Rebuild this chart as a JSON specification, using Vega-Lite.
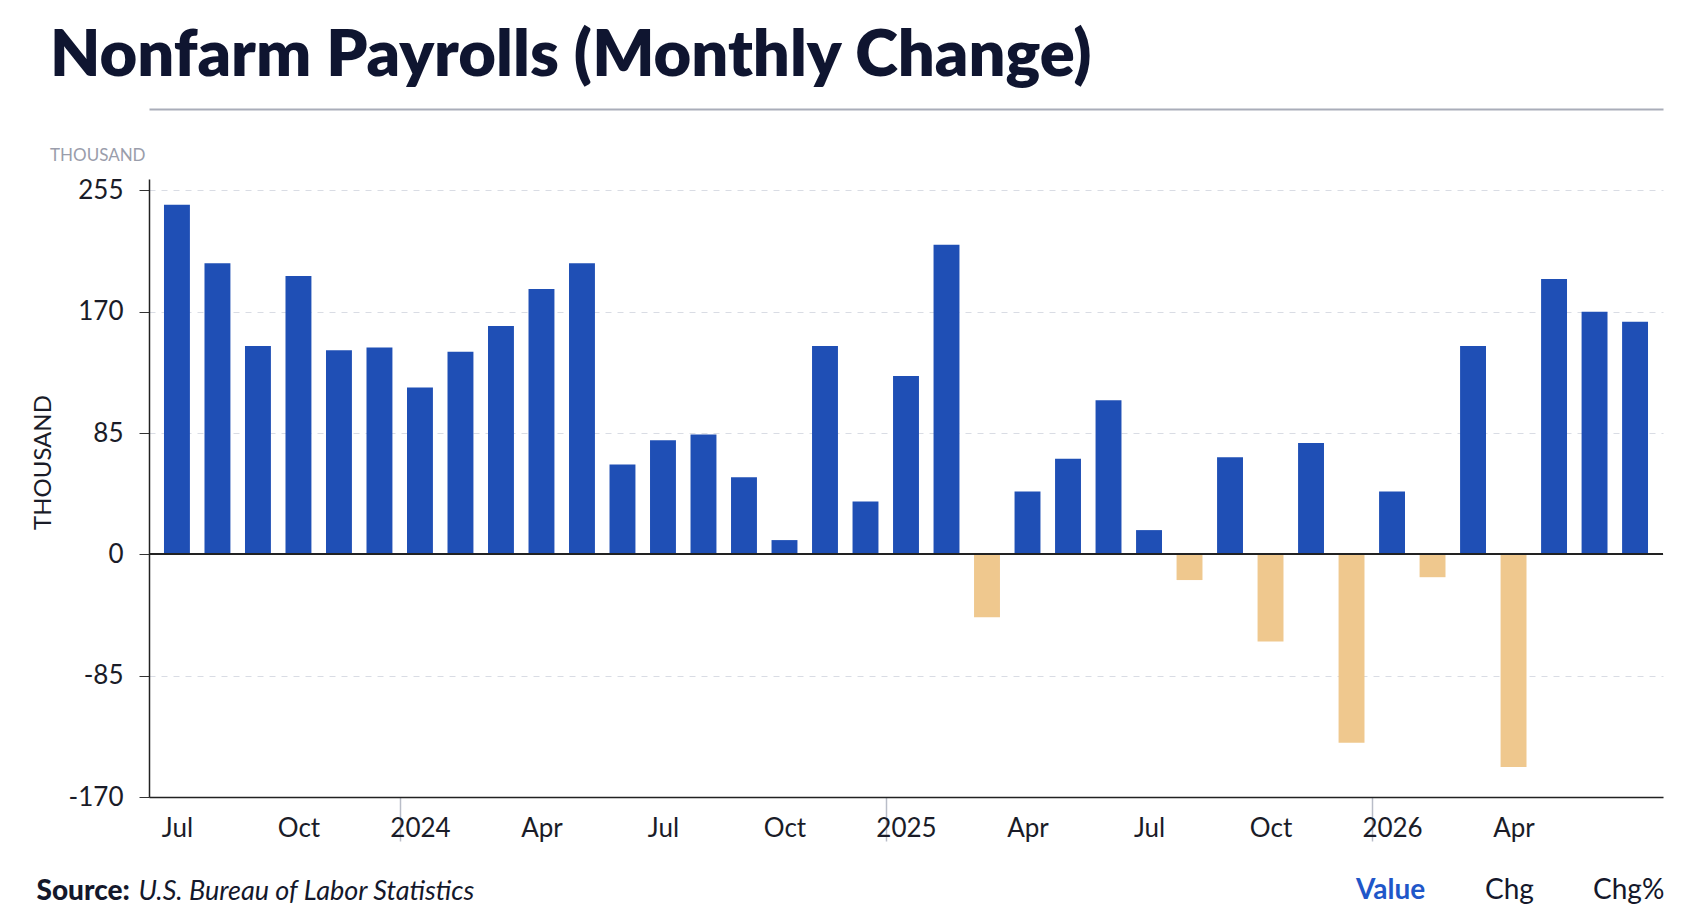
{
  "$schema": "https://vega.github.io/schema/vega-lite/v6.json",
  "width": 1514,
  "height": 618,
  "autosize": "none",
  "padding": {"left": 149, "top": 179, "right": 41, "bottom": 126},
  "background": "#ffffff",
  "title": {
    "text": "Nonfarm Payrolls (Monthly Change)",
    "subtitle": "THOUSAND",
    "anchor": "start",
    "frame": "group",
    "dx": -99,
    "dy": 60,
    "font": "Lato",
    "fontSize": 65,
    "fontWeight": 800,
    "color": "#0f1530",
    "subtitleFont": "Lato",
    "subtitleFontSize": 17,
    "subtitleColor": "#9a9dab",
    "subtitlePadding": 58
  },
  "datasets": {
    "payrolls": [
      {"month": "2023-07", "value": 245},
      {"month": "2023-08", "value": 204},
      {"month": "2023-09", "value": 146},
      {"month": "2023-10", "value": 195},
      {"month": "2023-11", "value": 143},
      {"month": "2023-12", "value": 145},
      {"month": "2024-01", "value": 117},
      {"month": "2024-02", "value": 142},
      {"month": "2024-03", "value": 160},
      {"month": "2024-04", "value": 186},
      {"month": "2024-05", "value": 204},
      {"month": "2024-06", "value": 63},
      {"month": "2024-07", "value": 80},
      {"month": "2024-08", "value": 84},
      {"month": "2024-09", "value": 54},
      {"month": "2024-10", "value": 10},
      {"month": "2024-11", "value": 146},
      {"month": "2024-12", "value": 37},
      {"month": "2025-01", "value": 125},
      {"month": "2025-02", "value": 217},
      {"month": "2025-03", "value": -44},
      {"month": "2025-04", "value": 44},
      {"month": "2025-05", "value": 67},
      {"month": "2025-06", "value": 108},
      {"month": "2025-07", "value": 17},
      {"month": "2025-08", "value": -18},
      {"month": "2025-09", "value": 68},
      {"month": "2025-10", "value": -61},
      {"month": "2025-11", "value": 78},
      {"month": "2025-12", "value": -132},
      {"month": "2026-01", "value": 44},
      {"month": "2026-02", "value": -16},
      {"month": "2026-03", "value": 146},
      {"month": "2026-04", "value": -149},
      {"month": "2026-05", "value": 193},
      {"month": "2026-06", "value": 170},
      {"month": "2026-07", "value": 163}
    ],
    "views": [
      {"view": "Value"},
      {"view": "Chg"},
      {"view": "Chg%"}
    ]
  },
  "data": {"name": "payrolls"},
  "layer": [
    {
      "mark": {"type": "bar"},
      "encoding": {
        "x": {
          "field": "month",
          "type": "ordinal",
          "sort": null,
          "scale": {"type": "band", "paddingInner": 0.36, "paddingOuter": 0.37},
          "axis": {
            "values": ["2023-07", "2023-10", "2024-01", "2024-04", "2024-07", "2024-10", "2025-01", "2025-04", "2025-07", "2025-10", "2026-01", "2026-04"],
            "labelExpr": "substring(datum.value, 5, 7) == '01' ? substring(datum.value, 0, 4) : substring(datum.value, 5, 7) == '04' ? 'Apr' : substring(datum.value, 5, 7) == '07' ? 'Jul' : 'Oct'",
            "labelAngle": 0,
            "labelFont": "Lato",
            "labelFontSize": 26,
            "labelColor": "#1a1c28",
            "labelPadding": -26,
            "labelOffset": 20.25,
            "tickOffset": -20.25,
            "tickSize": 44,
            "tickWidth": 1.5,
            "tickColor": "#b9bdc8",
            "tickOpacity": {"condition": {"test": "substring(datum.value, 5, 7) == '01'", "value": 1}, "value": 0},
            "domainColor": "#222222",
            "domainWidth": 1.5,
            "grid": false,
            "title": "Source:",
            "titleFont": "Lato",
            "titleFontSize": 28,
            "titleFontWeight": 900,
            "titleColor": "#14182b",
            "titleX": -113,
            "titleY": 94,
            "titleAlign": "left",
            "titleBaseline": "middle"
          }
        },
        "y": {
          "field": "value",
          "type": "quantitative",
          "scale": {"domain": [-170, 263], "nice": false, "zero": false},
          "axis": {
            "values": [-170, -85, 0, 85, 170, 255],
            "labelExpr": "'' + datum.value",
            "labelFont": "Lato",
            "labelFontSize": 26,
            "labelColor": "#1a1c28",
            "labelPadding": 16,
            "tickSize": 10,
            "tickColor": "#333333",
            "domainColor": "#222222",
            "domainWidth": 1.5,
            "gridColor": "#d9dce4",
            "gridDash": [6, 6],
            "gridWidth": 1,
            "title": "THOUSAND",
            "titleFont": "Lato",
            "titleFontSize": 24,
            "titleFontWeight": 400,
            "titleColor": "#1a1c28",
            "titleX": -106,
            "titleY": 283,
            "titleAlign": "center",
            "titleBaseline": "middle"
          }
        },
        "color": {
          "condition": {"test": "datum.value < 0", "value": "#efc88e"},
          "value": "#1f4fb5"
        }
      }
    },
    {
      "mark": {"type": "rule", "color": "#222222", "strokeWidth": 1.5},
      "encoding": {"y": {"datum": 0, "type": "quantitative"}}
    },
    {
      "mark": {"type": "point", "opacity": 0},
      "encoding": {
        "x": {
          "field": "month",
          "type": "ordinal",
          "sort": null,
          "axis": {
            "orient": "top",
            "offset": 70,
            "labels": false,
            "ticks": false,
            "grid": false,
            "domainColor": "#a9adb9",
            "domainWidth": 2,
            "title": "U.S. Bureau of Labor Statistics",
            "titleFont": "Lato",
            "titleFontSize": 27,
            "titleFontStyle": "italic",
            "titleFontWeight": 400,
            "titleColor": "#14182b",
            "titleX": -11,
            "titleY": 782,
            "titleAlign": "left",
            "titleBaseline": "middle"
          }
        }
      }
    },
    {
      "data": {"name": "views"},
      "mark": {"type": "point", "opacity": 0},
      "encoding": {
        "color": {
          "field": "view",
          "type": "nominal",
          "sort": null,
          "scale": {"domain": ["Value", "Chg", "Chg%"], "range": ["#1f57c9", "#14182b", "#14182b"]},
          "legend": {
            "orient": "none",
            "legendX": 1179,
            "legendY": 698,
            "direction": "horizontal",
            "title": null,
            "symbolSize": 0,
            "symbolOpacity": 0,
            "labelOffset": 0,
            "columnPadding": 31,
            "labelFont": "Lato",
            "labelFontSize": 28,
            "labelColor": {"expr": "datum.label == 'Value' ? '#1f57c9' : '#14182b'"},
            "labelFontWeight": {"expr": "datum.label == 'Value' ? 700 : 400"}
          }
        }
      }
    }
  ],
  "resolve": {"axis": {"x": "independent"}},
  "config": {
    "view": {"stroke": null}
  }
}
